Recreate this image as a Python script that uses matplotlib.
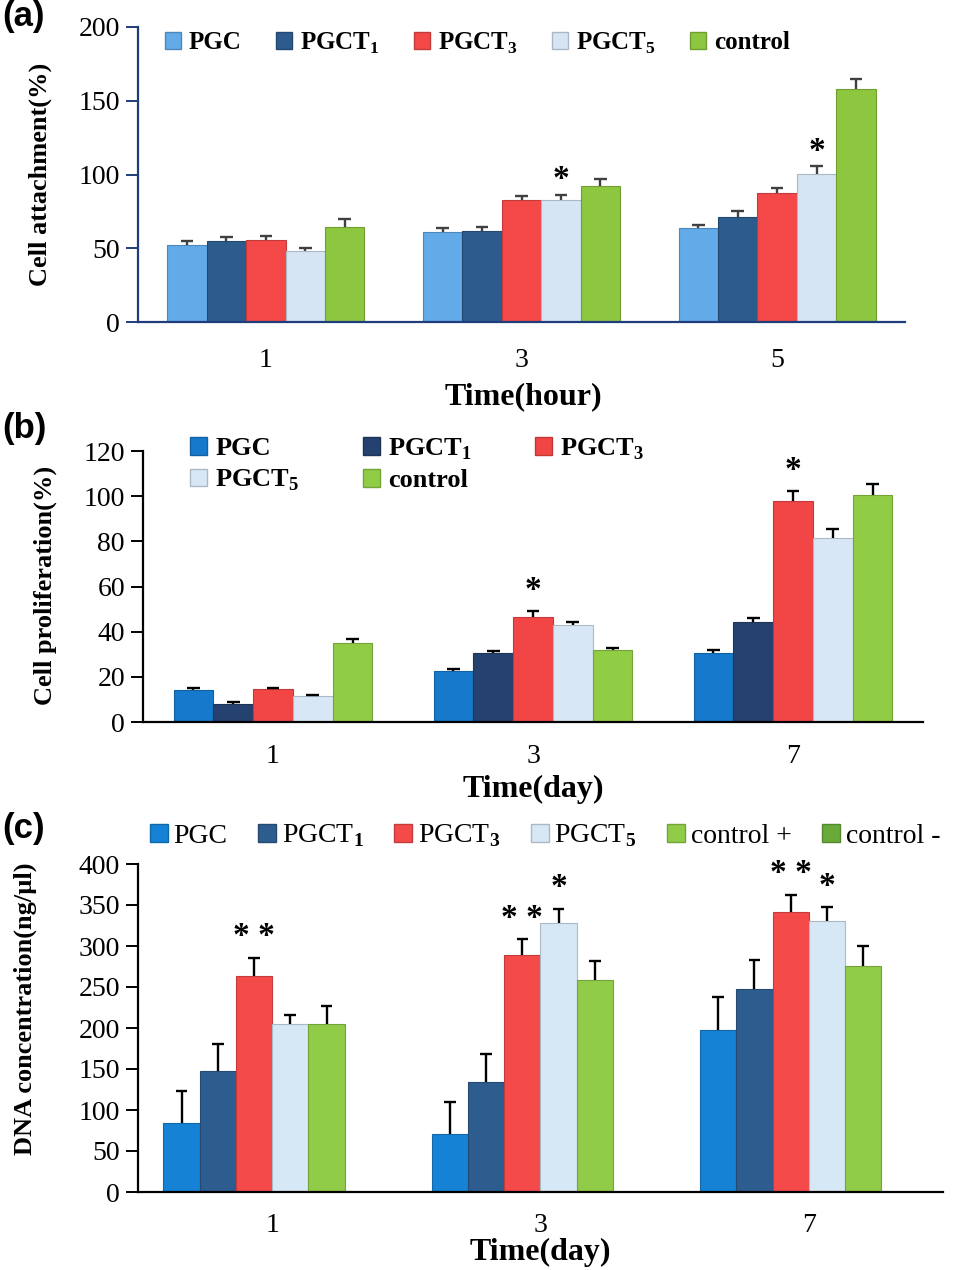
import numpy as np
import matplotlib
matplotlib.use("Agg")
import matplotlib.pyplot as plt
from matplotlib.patches import Patch

plt.rcParams['font.family'] = ['Liberation Serif', 'DejaVu Serif']
plt.rcParams['mathtext.fontset'] = 'custom'
plt.rcParams['mathtext.rm'] = 'Liberation Serif'
plt.rcParams['mathtext.bf'] = 'Liberation Serif:bold'

# --- Data ---

# (a) cell attachment, time in hours
a_groups = ['1', '3', '5']
a_pgc = [52.5, 61, 63.5]
a_pgc_err = [2.5, 2.5, 2.3]
a_pgct1 = [55, 62, 71.5]
a_pgct1_err = [2.5, 2.5, 3.7]
a_pgct3 = [55.5, 82.5, 87.5]
a_pgct3_err = [3, 2.7, 3.5]
a_pgct5 = [48, 82.5, 100.5]
a_pgct5_err = [2.2, 3.8, 5]
a_control = [64.5, 92.5, 158]
a_control_err = [5, 4.6, 6.7]
a_stars = [(1, 3, '*'), (2, 3, '*')]

# (b) cell proliferation, time in days
b_groups = ['1', '3', '7']
b_pgc = [14, 22.8, 30.5]
b_pgc_err = [0.9, 0.8, 1.5]
b_pgct1 = [8.1, 30.5, 44.5]
b_pgct1_err = [0.6, 0.9, 1.5]
b_pgct3 = [14.4, 46.7, 97.8]
b_pgct3_err = [0.8, 2.5, 4.4]
b_pgct5 = [11.3, 42.9, 81.3]
b_pgct5_err = [0.5, 1.6, 4]
b_control = [34.9, 31.7, 100.7]
b_control_err = [1.9, 1.0, 4.6]
b_stars = [(1, 2, '*'), (2, 2, '*')]

# (c) DNA concentration, time in days
c_groups = ['1', '3', '7']
c_pgc = [84, 71, 198]
c_pgc_err = [39, 39, 40]
c_pgct1 = [148, 134, 248]
c_pgct1_err = [33, 34, 35]
c_pgct3 = [263, 289, 341]
c_pgct3_err = [22, 19, 21]
c_pgct5 = [205, 328, 330]
c_pgct5_err = [11, 17, 17]
c_control_pos = [205, 258, 276]
c_control_pos_err = [22, 24, 24]
c_control_neg = [np.nan, np.nan, np.nan]   # in legend only, no bars drawn
c_control_neg_err = [0, 0, 0]
c_stars = [(0, 2, '* *'), (1, 2, '* *'), (1, 3, '*'), (2, 2, '* *'), (2, 3, '*')]

lab_pgc = r'PGC'
lab_t1 = r'PGCT$_{\mathbf{1}}$'
lab_t3 = r'PGCT$_{\mathbf{3}}$'
lab_t5 = r'PGCT$_{\mathbf{5}}$'


def darker(c, f=0.8):
    r, g, b = matplotlib.colors.to_rgb(c)
    return (r * f, g * f, b * f)


def draw_panel(ax, groups, series, errs, colors, width, ymax, ystep,
               stars, axcol, errcol, star_off):
    x = np.arange(len(groups))
    n = len(series)
    cap = width * 0.16
    for i, (vals, err, col) in enumerate(zip(series, errs, colors)):
        xs = x + (i - (n - 1) / 2) * width
        vals = np.array(vals, dtype=float)
        err = np.array(err, dtype=float)
        ax.bar(xs, vals, width, color=col, edgecolor=darker(col), linewidth=0.8, zorder=2)
        ok = ~np.isnan(vals)
        if ok.any():
            # plus-only error bars: stem from bar top and a cap at the end
            ax.vlines(xs[ok], vals[ok], vals[ok] + err[ok], color=errcol,
                      linewidth=1.7, zorder=3)
            ax.hlines(vals[ok] + err[ok], xs[ok] - cap, xs[ok] + cap,
                      color=errcol, linewidth=1.7, zorder=3)
    for g, s, txt in stars:
        xs = g + (s - (n - 1) / 2) * width
        ytop = series[s][g] + errs[s][g]
        ax.text(xs, ytop + star_off * ymax, txt, ha='center', va='center',
                fontsize=24, fontweight='bold', zorder=4)
    ax.set_xlim(-0.5, len(groups) - 0.5)
    ax.set_ylim(0, ymax)
    ax.set_yticks(np.arange(0, ymax + 1, ystep))
    ax.set_xticks(x)
    ax.set_xticklabels(groups)
    for sp in ['top', 'right']:
        ax.spines[sp].set_visible(False)
    for sp in ['left', 'bottom']:
        ax.spines[sp].set_color(axcol)
        ax.spines[sp].set_linewidth(1.6)
    ax.tick_params(axis='y', length=9, width=1.4, color=axcol, labelsize=20, pad=4)
    ax.tick_params(axis='x', length=0, labelsize=20, pad=19)


fig = plt.figure(figsize=(9.57, 12.70), dpi=100)
W, H = 957.0, 1270.0


def px_axes(l, t, r, b):
    return fig.add_axes([l / W, 1 - b / H, (r - l) / W, (b - t) / H])


# ---- (a) ----
ax1 = px_axes(138, 27, 905, 322)
cols_a = ['#62aae8', '#2d5b8d', '#f44848', '#d6e5f4', '#8dc63f']
draw_panel(ax1, a_groups, [a_pgc, a_pgct1, a_pgct3, a_pgct5, a_control],
           [a_pgc_err, a_pgct1_err, a_pgct3_err, a_pgct5_err, a_control_err],
           cols_a, 0.154, 200, 50, a_stars, '#1f3d7a', '#404040', 0.05)
ax1.set_ylabel('Cell attachment(%)', fontsize=19, fontweight='bold')
ax1.yaxis.set_label_coords(-0.112, 0.5)
ax1.set_xlabel('Time(hour)', fontsize=23, fontweight='bold')
ax1.xaxis.set_label_coords(0.502, -0.205)
h = [Patch(facecolor=c, edgecolor=darker(c)) for c in cols_a]
fig.legend(h, [lab_pgc, lab_t1, lab_t3, lab_t5, 'control'], loc='center left',
           bbox_to_anchor=(165 / W, 1 - 43 / H), ncol=5, frameon=False,
           prop={'size': 18, 'weight': 'bold'}, handlelength=0.65, handleheight=0.65,
           handletextpad=0.3, columnspacing=1.38, borderpad=0, borderaxespad=0)

# ---- (b) ----
ax2 = px_axes(143, 451, 923, 722)
cols_b = ['#1679cc', '#25416f', '#f24646', '#d8e7f6', '#91cc45']
draw_panel(ax2, b_groups, [b_pgc, b_pgct1, b_pgct3, b_pgct5, b_control],
           [b_pgc_err, b_pgct1_err, b_pgct3_err, b_pgct5_err, b_control_err],
           cols_b, 0.153, 120, 20, b_stars, 'black', 'black', 0.075)
ax2.set_ylabel('Cell proliferation(%)', fontsize=19, fontweight='bold')
ax2.yaxis.set_label_coords(-0.110, 0.505)
ax2.set_xlabel('Time(day)', fontsize=23, fontweight='bold')
ax2.xaxis.set_label_coords(0.501, -0.195)
ax2.tick_params(axis='x', pad=16)
h = [Patch(facecolor=c, edgecolor=darker(c)) for c in cols_b]
labels_b = [lab_pgc, lab_t1, lab_t3, lab_t5, 'control']
order = [0, 3, 1, 4, 2]
fig.legend([h[i] for i in order], [labels_b[i] for i in order], loc='upper left',
           bbox_to_anchor=(190 / W, 1 - 436 / H), ncol=3, frameon=False,
           prop={'size': 19, 'weight': 'bold'}, handlelength=0.65, handleheight=0.65,
           handletextpad=0.3, columnspacing=2.4, labelspacing=0.3,
           borderpad=0, borderaxespad=0)

# ---- (c) ----
ax3 = px_axes(138, 864, 943, 1192)
cols_c = ['#1582d6', '#2d5d8f', '#f44a4a', '#d6e7f6', '#91cc48', '#6aaa3a']
draw_panel(ax3, c_groups,
           [c_pgc, c_pgct1, c_pgct3, c_pgct5, c_control_pos, c_control_neg],
           [c_pgc_err, c_pgct1_err, c_pgct3_err, c_pgct5_err, c_control_pos_err,
            c_control_neg_err],
           cols_c, 0.135, 400, 50, c_stars, 'black', 'black', 0.065)
ax3.set_ylabel('DNA concentration(ng/µl)', fontsize=19, fontweight='bold')
ax3.yaxis.set_label_coords(-0.125, 0.56)
ax3.set_xlabel('Time(day)', fontsize=23, fontweight='bold')
ax3.xaxis.set_label_coords(0.50, -0.14)
ax3.tick_params(axis='x', pad=15)
h = [Patch(facecolor=c, edgecolor=darker(c)) for c in cols_c]
fig.legend(h, [lab_pgc, lab_t1, lab_t3, lab_t5, 'control +', 'control -'],
           loc='center left', bbox_to_anchor=(150 / W, 1 - 836 / H), ncol=6,
           frameon=False, prop={'size': 20}, handlelength=0.65,
           handleheight=0.65, handletextpad=0.2, columnspacing=1.1,
           borderpad=0, borderaxespad=0)

# panel letters
for lab, ytop in [('(a)', 0), ('(b)', 412), ('(c)', 812)]:
    fig.text(2 / W, 1 - ytop / H, lab, ha='left', va='top', fontsize=25,
             fontweight='bold', family='Liberation Sans')

fig.savefig('out.png', dpi=100)
